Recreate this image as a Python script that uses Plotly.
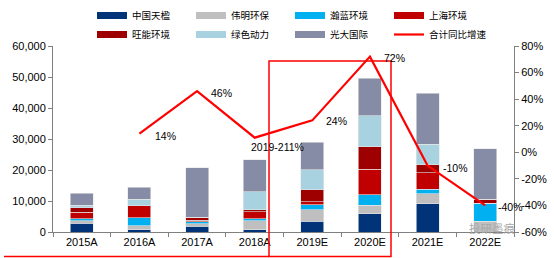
import plotly.graph_objects as go

categories = ["2015A", "2016A", "2017A", "2018A", "2019E", "2020E", "2021E", "2022E"]

series_names = ["中国天楹", "伟明环保", "瀚蓝环境", "上海环境", "旺能环境", "绿色动力", "光大国际"]
tianying = [2770, 740, 1850, 650, 3540, 5850, 9050, 0]
weiming = [870, 1290, 800, 2990, 3640, 2720, 3300, 3420]
hanlan = [640, 2580, 600, 640, 1610, 3400, 1500, 5920]
shanghai = [2160, 3870, 600, 2260, 1000, 8300, 5200, 0]
wangneng = [1390, 0, 700, 640, 3830, 7280, 2630, 1290]
lvse = [740, 2050, 150, 5800, 6440, 9980, 6700, 0]
guangda = [3990, 3870, 16100, 10320, 8940, 12050, 16300, 16150]

growth = [None, 14, 46, 11, 24, 72, -10, -40]
growth_labels = ["", "14%", "46%", "2019-211%", "24%", "72%", "-10%", "-40%"]

left_ticks = [0, 10000, 20000, 30000, 40000, 50000, 60000]
left_tick_text = ["0", "10,000", "20,000", "30,000", "40,000", "50,000", "60,000"]
right_ticks = [-60, -40, -20, 0, 20, 40, 60, 80]
right_tick_text = ["-60%", "-40%", "-20%", "0%", "20%", "40%", "60%", "80%"]

colors = ["#003378", "#BFBFBF", "#00B0F0", "#C00000", "#9E0000", "#A9D2E0", "#878CA6"]
series_values = [tianying, weiming, hanlan, shanghai, wangneng, lvse, guangda]

CJK = "Noto Sans CJK SC"
LAT = "Liberation Sans, Arial, sans-serif"

fig = go.Figure()
for name, vals, col in zip(series_names, series_values, colors):
    fig.add_trace(go.Bar(
        x=categories, y=vals, name=name, marker=dict(color=col, line=dict(color="#E6E6E6", width=0.6)),
        width=0.4, showlegend=False, legendgroup=name,
    ))
    # legend-only swatch (flat rectangle look)
    fig.add_trace(go.Scatter(
        x=[None], y=[None], mode="lines", name=name, legendgroup=name,
        line=dict(color=col, width=7), hoverinfo="skip",
    ))

fig.add_trace(go.Scatter(
    x=categories, y=growth, name="合计同比增速", mode="lines", yaxis="y2",
    line=dict(color="#FF0000", width=2.2), connectgaps=False,
))

annotations = []
shifts = {1: (14, -2), 2: (12, -2), 3: (-6, -9), 4: (12, -1), 5: (12, -1), 6: (13, -2), 7: (11, -2)}
for i, (c, v, t) in enumerate(zip(categories, growth, growth_labels)):
    if v is None:
        continue
    dx, dy = shifts[i]
    annotations.append(dict(
        x=c, y=v, xref="x", yref="y2", text=t, showarrow=False,
        xanchor="left", yanchor="middle", xshift=dx, yshift=dy,
        font=dict(family=LAT, size=10.5, color="#000000"),
    ))


def px_x(p):
    return (p - 53) / 461


def px_y(p):
    return (232 - p) / 186


# watermark
annotations.append(dict(
    x=px_x(518), y=px_y(227.5), xref="paper", yref="paper", text="投研墨痕", showarrow=False,
    xanchor="right", yanchor="middle", font=dict(family=CJK, size=11.5, color="#A8A8A8"),
))

shapes = [
    dict(type="rect", xref="paper", yref="paper", x0=px_x(269), x1=px_x(391), y0=px_y(256.5), y1=px_y(61),
         line=dict(color="#FF0000", width=1.5), fillcolor="rgba(0,0,0,0)", layer="above"),
    dict(type="line", xref="paper", yref="paper", x0=px_x(4), x1=px_x(269), y0=px_y(256.5), y1=px_y(256.5),
         line=dict(color="#FF0000", width=1.5), layer="above"),
]

fig.update_layout(
    width=554, height=258,
    margin=dict(l=53, r=40, t=46, b=26, autoexpand=False),
    paper_bgcolor="white", plot_bgcolor="white",
    barmode="stack", bargap=0.6,
    font=dict(family=LAT, size=11, color="#000000"),
    showlegend=True,
    legend=dict(
        orientation="h", x=px_x(92), y=px_y(1), xanchor="left", yanchor="top",
        entrywidth=54, entrywidthmode="pixels", traceorder="normal",
        font=dict(family=CJK, size=9.5, color="#000000"),
        bgcolor="rgba(0,0,0,0)", borderwidth=0, tracegroupgap=0, itemwidth=30,
    ),
    xaxis=dict(
        type="category", showline=True, linecolor="#808080", linewidth=1,
        ticks="outside", tickson="boundaries", ticklen=4, tickcolor="#808080",
        showgrid=False, tickfont=dict(family=LAT, size=11), range=[-0.5, 7.5],
    ),
    yaxis=dict(
        range=[0, 60000], tickvals=left_ticks, ticktext=left_tick_text,
        showline=True, linecolor="#808080", linewidth=1, ticks="outside", ticklen=4,
        tickcolor="#808080", showgrid=False, zeroline=False, tickfont=dict(family=LAT, size=11),
    ),
    yaxis2=dict(
        range=[-60, 80], tickvals=right_ticks, ticktext=right_tick_text,
        overlaying="y", side="right", showline=True, linecolor="#808080", linewidth=1,
        ticks="outside", ticklen=4, tickcolor="#808080", showgrid=False, zeroline=False,
        tickfont=dict(family=LAT, size=11),
    ),
    annotations=annotations,
    shapes=shapes,
)

fig.write_html("out.html")
